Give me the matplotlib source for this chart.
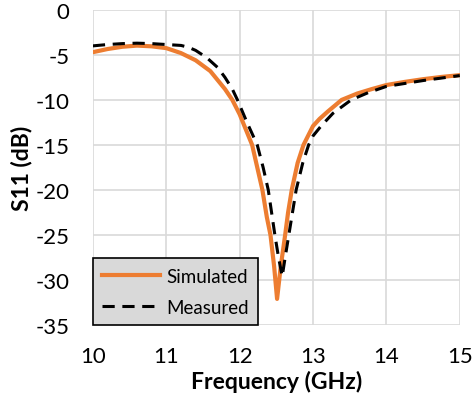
import matplotlib
matplotlib.use('Agg')
import matplotlib.pyplot as plt

plt.rcParams['font.family'] = ['Lato', 'DejaVu Sans']
plt.rcParams['axes.unicode_minus'] = False

# Simulated S11
f_sim = [10.0, 10.2, 10.4, 10.6, 10.8, 11.0, 11.2, 11.4, 11.6, 11.8, 11.9, 12.0, 12.1,
         12.17, 12.24, 12.31, 12.37, 12.42, 12.47, 12.51, 12.56, 12.62, 12.66, 12.71,
         12.79, 12.87, 13.0, 13.09, 13.2, 13.39, 13.6, 13.8, 14.0, 14.25, 14.5, 14.75, 15.0]
s_sim = [-4.7, -4.35, -4.1, -3.97, -4.05, -4.25, -4.8, -5.6, -6.8, -8.8, -10.0, -11.6, -13.6,
         -15.0, -17.5, -20.0, -23.0, -25.0, -28.5, -32.1, -28.5, -25.0, -22.5, -20.0,
         -17.0, -15.0, -12.9, -12.1, -11.3, -10.0, -9.3, -8.8, -8.35, -8.0, -7.7, -7.45, -7.25]

# Measured S11
f_meas = [10.0, 10.2, 10.4, 10.6, 10.8, 11.0, 11.2, 11.3, 11.4, 11.55, 11.7, 11.8, 11.9,
          11.97, 12.1, 12.24, 12.32, 12.39, 12.48, 12.53, 12.58, 12.62, 12.67, 12.72,
          12.77, 12.86, 12.94, 13.0, 13.11, 13.27, 13.52, 13.75, 14.0, 14.5, 15.0]
s_meas = [-4.0, -3.85, -3.75, -3.7, -3.75, -3.85, -3.95, -4.15, -4.5, -5.3, -6.4, -7.5, -8.8,
          -10.0, -12.5, -15.0, -17.5, -20.0, -25.0, -27.5, -29.6, -27.5, -25.0, -22.5,
          -20.0, -17.0, -15.0, -14.0, -12.9, -11.5, -10.0, -9.2, -8.5, -7.85, -7.3]

fig = plt.figure(figsize=(4.74, 4.02), dpi=100)
ax = fig.add_axes([0.196, 0.189, 0.774, 0.784])

ax.plot(f_sim, s_sim, color='#ED7D31', lw=3, label='Simulated', zorder=3)
ax.plot(f_meas, s_meas, color='black', lw=2.2, ls=(0, (4, 2.5)), label='Measured', zorder=4)

ax.set_xlim(10, 15)
ax.set_ylim(-35, 0)
ax.set_xticks([10, 11, 12, 13, 14, 15])
ax.set_yticks([0, -5, -10, -15, -20, -25, -30, -35])
ax.grid(True, color='#d9d9d9', lw=1.2)
ax.set_axisbelow(True)
for s in ax.spines.values():
    s.set_visible(False)
ax.tick_params(length=0, labelsize=16)
ax.tick_params(axis='y', pad=17)
ax.tick_params(axis='x', pad=15)

ax.set_xlabel('Frequency (GHz)', fontsize=16.5, fontweight='bold', labelpad=3)
ax.set_ylabel('S11 (dB)', fontsize=16.5, fontweight='bold', labelpad=2)

leg = ax.legend(loc='lower left', bbox_to_anchor=(0, 0), fontsize=13.5, frameon=True,
                fancybox=False, handlelength=3.1, borderpad=0.5, labelspacing=0.75,
                handletextpad=0.3, borderaxespad=0)
leg.get_frame().set_facecolor('#d9d9d9')
leg.get_frame().set_edgecolor('black')
leg.get_frame().set_alpha(1)
leg.get_frame().set_linewidth(1.2)

plt.savefig('out.png', dpi=100)
